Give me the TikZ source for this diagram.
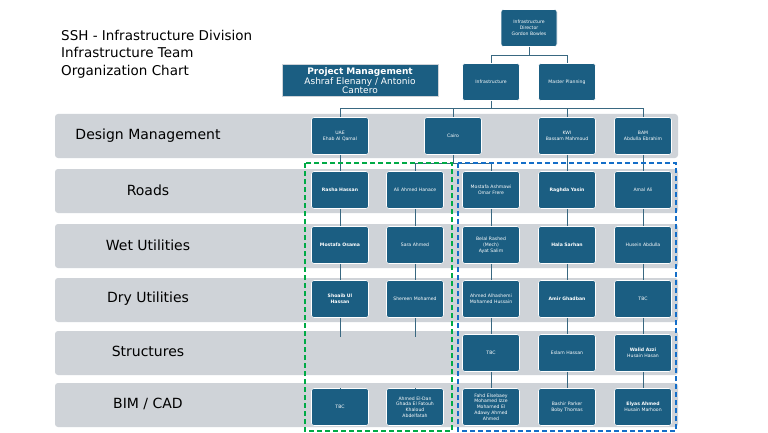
\documentclass[tikz,border=0pt]{standalone}
\usepackage{fontspec}
\setmainfont{DejaVu Sans}
\begin{document}
\begin{tikzpicture}[x=1pt,y=-1pt,
  box/.style={draw=white,line width=0.6pt,fill=nb,rounded corners=2.5pt,minimum width=57pt,minimum height=37pt,text=white,font=\fontsize{4.6}{5.8}\selectfont,align=center,inner sep=1pt,text width=54pt},
  lab/.style={font=\fontsize{14}{16}\selectfont,text=black},
  ln/.style={draw=nb!70!gray,line width=0.7pt}]
\definecolor{nb}{HTML}{1B5E82}
\definecolor{gb}{HTML}{CFD3D8}
\useasboundingbox (0,0) rectangle (768,433);
\fill[white] (0,0) rectangle (768,433);
\foreach \a/\b in {114/158,169/213,224/268,278/322,331/375,383/427}{\fill[gb,rounded corners=3pt] (55,\a) rectangle (678,\b);}
\node[lab] (l1) at (148,136) {Design Management};
\node[lab] (l2) at (148,190) {Roads};
\node[lab] (l3) at (148,245) {Wet Utilities};
\node[lab] (l4) at (148,299) {Dry Utilities};
\node[lab] (l5) at (148,351) {Structures};
\node[lab] (l6) at (148,404) {BIM / CAD};
\node[anchor=north west,align=left,font=\fontsize{13.5}{17.5}\selectfont,inner sep=0pt] (t) at (61,30) {SSH - Infrastructure Division\\Infrastructure Team\\Organization Chart};
\node[box,minimum width=56pt,text width=50pt] (dir) at (529,28) {Infrastructure\\Director\\Gordon Bowles};
\node[box] (inf) at (491,82) {Infrastructure};
\node[box] (mp) at (567,82) {Master Planning};
\node[fill=nb,draw=gb,line width=1pt,minimum width=156pt,minimum height=32pt,text=white,align=center,font=\fontsize{9}{9.5}\selectfont,inner sep=0pt] (pm) at (360,81) {\textbf{Project Management}\\Ashraf Elenany / Antonio\\Cantero};
\node[box] (uae) at (340,136) {UAE\\Ehab Al Qamal};
\node[box] (cai) at (453,136) {Cairo};
\node[box] (kwi) at (567,136) {KWI\\Bassam Mahmoud};
\node[box] (bam) at (643,136) {BAM\\Abdulla Ebrahim};
\node[box] (r1) at (340,190) {\textbf{Rasha Hassan}};
\node[box] (r2) at (415,190) {Ali Ahmed Hanace};
\node[box] (r3) at (491,190) {Mostafa Ashmawi\\Omar Frere};
\node[box] (r4) at (567,190) {\textbf{Raghda Yasin}};
\node[box] (r5) at (643,190) {Amal Ali};
\node[box] (w1) at (340,245) {\textbf{Mostafa Osama}};
\node[box] (w2) at (415,245) {Sara Ahmed};
\node[box] (w3) at (491,245) {Belal Rashed\\(Mech)\\Ayat Salim};
\node[box] (w4) at (567,245) {\textbf{Hala Sarhan}};
\node[box] (w5) at (643,245) {Husein Abdulla};
\node[box] (d1) at (340,299) {\textbf{Shoaib Ul}\\\textbf{Hassan}};
\node[box] (d2) at (415,299) {Shereen Mohamed};
\node[box] (d3) at (491,299) {Ahmed Alhashemi\\Mohamed Hussain};
\node[box] (d4) at (567,299) {\textbf{Amir Ghadban}};
\node[box] (d5) at (643,299) {TBC};
\node[box] (s3) at (491,353) {TBC};
\node[box] (s4) at (567,353) {Eslam Hassan};
\node[box] (s5) at (643,353) {\textbf{Walid Azzi}\\Husain Hasan};
\node[box] (b1) at (340,407) {TBC};
\node[box] (b2) at (415,407) {Ahmed El-Dan\\Ghada El Fatouh\\Khaloud\\Abdelfatah};
\node[box] (b3) at (491,407) {Fahd Elsebaey\\Mohamed Izze\\Mohamed El\\Adawy Ahmed\\Ahmed};
\node[box] (b4) at (567,407) {Bashir Parker\\Boby Thomas};
\node[box] (b5) at (643,407) {\textbf{Elyas Ahmed}\\Husain Marhoon};
\begin{scope}[on background layer/.try]
\end{scope}
\coordinate (j1) at (529,55);
\coordinate (j2) at (491,108);
\coordinate (j3) at (453,163);
\coordinate (e1) at (340,337); \coordinate (f1) at (340,389);
\coordinate (e2) at (415,337); \coordinate (f2) at (415,389);
\draw[ln] (dir.south) -- (j1) -| (inf.north);
\draw[ln] (j1) -| (mp.north);
\draw[ln] (inf.south) -- (j2) -| (uae.north);
\draw[ln] (j2) -| (bam.north);
\draw[ln] (j2) -| (kwi.north);
\draw[ln] (j2) -| (cai.north);
\draw[ln] (cai.south) -- (j3) -| (r2.north);
\draw[ln] (j3) -| (r3.north);
\draw[ln] (uae.south) -- (r1.north); \draw[ln] (kwi.south) -- (r4.north); \draw[ln] (bam.south) -- (r5.north);
\draw[ln] (r1.south) -- (w1.north); \draw[ln] (w1.south) -- (d1.north);
\draw[ln] (r2.south) -- (w2.north); \draw[ln] (w2.south) -- (d2.north);
\draw[ln] (r3.south) -- (w3.north); \draw[ln] (w3.south) -- (d3.north); \draw[ln] (d3.south) -- (s3.north); \draw[ln] (s3.south) -- (b3.north);
\draw[ln] (r4.south) -- (w4.north); \draw[ln] (w4.south) -- (d4.north); \draw[ln] (d4.south) -- (s4.north); \draw[ln] (s4.south) -- (b4.north);
\draw[ln] (r5.south) -- (w5.north); \draw[ln] (w5.south) -- (d5.north); \draw[ln] (d5.south) -- (s5.north); \draw[ln] (s5.south) -- (b5.north);
\draw[ln] (d1.south) -- (e1); \draw[ln] (f1) -- (b1.north);
\draw[ln] (d2.south) -- (e2); \draw[ln] (f2) -- (b2.north);
\draw[draw={rgb,255:red,0;green,170;blue,70},line width=1.6pt,dash pattern=on 5pt off 3pt] (305,163) rectangle (452,431);
\draw[draw={rgb,255:red,20;green,110;blue,200},line width=1.6pt,dash pattern=on 5pt off 3pt] (458,163) rectangle (676,431);
\end{tikzpicture}
\end{document}
